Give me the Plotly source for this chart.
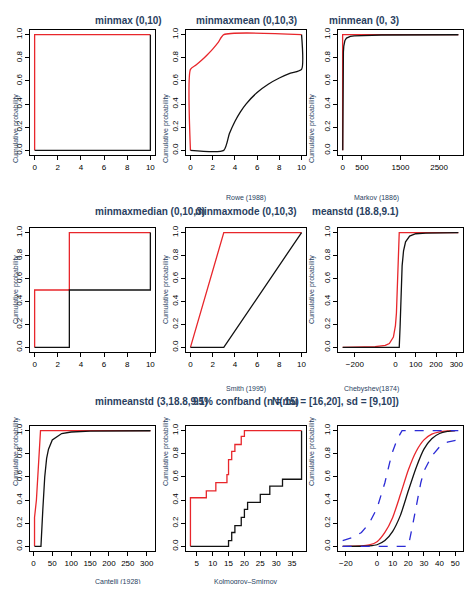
import plotly.graph_objects as go

RED = "#e8262b"; BLK = "#111111"; BLUE = "#2b2bd6"

titles = ["minmax (0,10)", "minmaxmean (0,10,3)", "minmean (0, 3)",
          "minmaxmedian (0,10,3)", "minmaxmode (0,10,3)", "meanstd (18.8,9.1)",
          "minmeanstd (3,18.8,9.1)", "95% confband (n = 15)", "N(mu = [16,20], sd = [9,10])"]
footnotes = ["", "Rowe (1988)", "Markov (1886)", "", "Smith (1995)", "Chebyshev(1874)",
             "Cantelli (1928)", "Kolmogrov–Smirnov", ""]

# panel 1
p1_red_x = [0, 0, 10]; p1_red_y = [0, 1, 1]
p1_blk_x = [0, 10, 10]; p1_blk_y = [0, 0, 1]
# panel 2
p2_red_x = [0, 0, 0.5, 1, 1.5, 2, 2.5, 3, 10]
p2_red_y = [0, 0.7, 0.737, 0.778, 0.824, 0.875, 0.933, 1, 1]
p2_blk_x = [0, 3, 3.5, 4, 4.5, 5, 6, 7, 8, 9, 10, 10]
p2_blk_y = [0, 0, 0.143, 0.25, 0.333, 0.4, 0.5, 0.571, 0.625, 0.667, 0.7, 1]
# panel 3
p3_red_x = [0, 0, 3000]; p3_red_y = [0, 1, 1]
p3_blk_x = [3, 3, 10, 20, 30, 60, 100, 200, 300, 600, 1000, 3000]
p3_blk_y = [0, 0.02, 0.7, 0.85, 0.9, 0.95, 0.97, 0.985, 0.99, 0.995, 0.997, 0.999]
# panel 4
p4_red_x = [0, 0, 3, 3, 10]; p4_red_y = [0, 0.5, 0.5, 1, 1]
p4_blk_x = [0, 3, 3, 10, 10]; p4_blk_y = [0, 0, 0.5, 0.5, 1]
# panel 5
p5_red_x = [0, 3, 10]; p5_red_y = [0, 1, 1]
p5_blk_x = [0, 3, 10]; p5_blk_y = [0, 0, 1]
# panel 6
p6_red_x = [-260, -100, -50, -30, -10, 0, 5, 10, 14, 18.8, 18.8, 310]
p6_red_y = [0.001, 0.006, 0.017, 0.034, 0.09, 0.19, 0.3, 0.52, 0.78, 0.98, 1, 1]
p6_blk_x = [-260, 18.8, 23, 28, 33, 40, 50, 70, 100, 150, 310]
p6_blk_y = [0, 0, 0.18, 0.5, 0.71, 0.84, 0.92, 0.97, 0.99, 0.995, 0.999]
# panel 7
p7_red_x = [3, 3, 8, 12, 15, 18.8, 310]
p7_red_y = [0, 0.25, 0.4, 0.64, 0.85, 1, 1]
p7_blk_x = [3, 20, 25, 30, 35, 40, 50, 75, 100, 150, 310]
p7_blk_y = [0, 0, 0.32, 0.6, 0.76, 0.84, 0.92, 0.975, 0.988, 0.995, 0.999]
# panel 8 (step functions)
p8_red_steps_x = [3, 8, 11, 14.5, 15, 16, 17, 19, 20, 38]
p8_red_steps_y = [0.42, 0.48, 0.55, 0.62, 0.75, 0.82, 0.88, 0.95, 1, 1]
p8_blk_steps_x = [3, 15, 16, 17, 19, 20, 21, 25, 28, 32, 38, 38]
p8_blk_steps_y = [0, 0.05, 0.12, 0.18, 0.25, 0.32, 0.38, 0.45, 0.52, 0.58, 0.58, 1]
# panel 9
p9_x = [-22, -10, -5, 0, 5, 10, 15, 20, 25, 30, 35, 40, 45, 50]
p9_red_y = [0.0, 0.003, 0.012, 0.04, 0.12, 0.25, 0.45, 0.66, 0.82, 0.92, 0.97, 0.99, 0.998, 1]
p9_blk_y = [0.0, 0.001, 0.004, 0.014, 0.05, 0.13, 0.27, 0.48, 0.68, 0.84, 0.93, 0.975, 0.993, 1]
p9_bl_x = [-22, -15, -10, -5, 0, 5, 8, 10, 13, 16, 52]
p9_bl_y = [0.05, 0.08, 0.12, 0.2, 0.33, 0.55, 0.72, 0.82, 0.93, 1.0, 1.0]
p9_br_x = [-22, 20, 23, 25, 28, 30, 35, 40, 45, 52]
p9_br_y = [0, 0, 0.2, 0.35, 0.55, 0.65, 0.78, 0.86, 0.9, 0.92]

def steps(xs, ys, start_y=0):
    ox, oy = [xs[0]], [start_y]
    for x, y in zip(xs, ys):
        ox += [x, x]; oy += [oy[-1], y]
    return ox, oy

p8rx, p8ry = steps(p8_red_steps_x, p8_red_steps_y)
p8bx, p8by = steps(p8_blk_steps_x, p8_blk_steps_y)

panels = [
    [(p1_red_x, p1_red_y, RED, None), (p1_blk_x, p1_blk_y, BLK, None)],
    [(p2_red_x, p2_red_y, RED, "spline"), (p2_blk_x, p2_blk_y, BLK, "spline")],
    [(p3_red_x, p3_red_y, RED, None), (p3_blk_x, p3_blk_y, BLK, None)],
    [(p4_red_x, p4_red_y, RED, None), (p4_blk_x, p4_blk_y, BLK, None)],
    [(p5_red_x, p5_red_y, RED, None), (p5_blk_x, p5_blk_y, BLK, None)],
    [(p6_red_x, p6_red_y, RED, None), (p6_blk_x, p6_blk_y, BLK, None)],
    [(p7_red_x, p7_red_y, RED, None), (p7_blk_x, p7_blk_y, BLK, None)],
    [(p8rx, p8ry, RED, None), (p8bx, p8by, BLK, None)],
    [(p9_x, p9_red_y, RED, "spline"), (p9_x, p9_blk_y, BLK, "spline"),
     (p9_bl_x, p9_bl_y, BLUE, "dash"), (p9_br_x, p9_br_y, BLUE, "dash")],
]
xranges = [[-0.4, 10.4], [-0.4, 10.4], [-120, 3120], [-0.4, 10.4], [-0.4, 10.4],
           [-283, 333], [-9, 322], [1.6, 39.4], [-25, 55]]
xticks = [[0, 2, 4, 6, 8, 10]] * 2 + [[0, 500, 1500, 2500]] + [[0, 2, 4, 6, 8, 10]] * 2 + \
         [[-200, 0, 100, 200, 300], [0, 50, 100, 150, 200, 250, 300], [5, 10, 15, 20, 25, 30, 35],
          [-20, 0, 10, 20, 30, 40, 50]]

# the page adds an 8px body margin; lay the figure out in window pixels
OFF = 8
W, H = 474 - 2 * OFF, 592 - 2 * OFF
cols = [(30, 155), (186, 306), (338, 463)]
rows = [(30, 155), (228, 352), (426, 551)]

def px(v): return (v - OFF) / W
def py(v): return 1 - (v - OFF) / H

fig = go.Figure()
font = "Liberation Sans, Arial, sans-serif"
anns = []
for i in range(9):
    r, c = divmod(i, 3)
    ax = "" if i == 0 else str(i + 1)
    for (x, y, col, sty) in panels[i]:
        line = dict(color=col, width=1.3)
        if sty == "dash":
            line["dash"] = "dash"
        if sty == "spline":
            line["shape"] = "spline"
            line["smoothing"] = 0.6
        fig.add_trace(go.Scatter(x=x, y=y, mode="lines", line=line, showlegend=False,
                                 xaxis="x" + ax, yaxis="y" + ax))
    x0, x1 = cols[c]; y0, y1 = rows[r]
    common = dict(showline=True, linecolor="black", linewidth=1, mirror=True, ticks="outside",
                  ticklen=4, tickcolor="black", showgrid=False, zeroline=False, automargin=False,
                  tickfont=dict(size=8, family=font, color="black"))
    fig.layout["xaxis" + ax] = dict(domain=[px(x0), px(x1)], range=xranges[i], tickvals=xticks[i],
                                    anchor="y" + ax, **common)
    fig.layout["yaxis" + ax] = dict(domain=[py(y1), py(y0)], range=[-0.04, 1.04],
                                    tickvals=[0, 0.2, 0.4, 0.6, 0.8, 1.0],
                                    ticktext=["0.0", "0.2", "0.4", "0.6", "0.8", "1.0"],
                                    tickangle=-90, anchor="x" + ax, **common)
    anns.append(dict(text="<b>" + titles[i] + "</b>", x=px((x0 + x1) / 2), y=py(y0 - 17),
                     xref="paper", yref="paper", showarrow=False, font=dict(size=10, family=font)))
    anns.append(dict(text="Cumulative probability", x=px(x0 - 20), y=py((y0 + y1) / 2),
                     xref="paper", yref="paper", showarrow=False, textangle=-90,
                     font=dict(size=7, family=font)))
    if footnotes[i]:
        anns.append(dict(text=footnotes[i], x=px((x0 + x1) / 2), y=py(y1 + 37),
                         xref="paper", yref="paper", showarrow=False, font=dict(size=7, family=font)))

fig.update_layout(width=W, height=H, margin=dict(l=0, r=0, t=0, b=0),
                  plot_bgcolor="white", paper_bgcolor="white", annotations=anns)
fig.write_html("out.html")
